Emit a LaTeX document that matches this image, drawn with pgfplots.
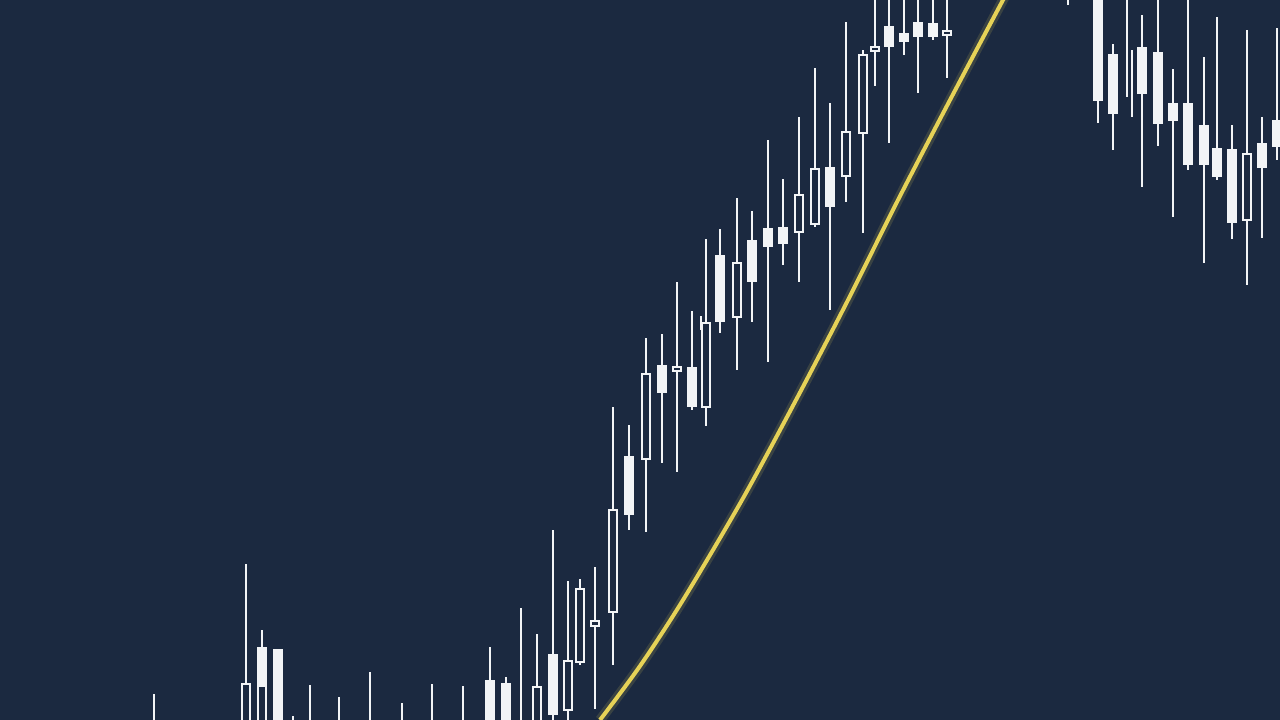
\documentclass[border=0pt]{standalone}
\usepackage{pgfplots}
\usepackage{pgfplotstable}
\pgfplotsset{compat=1.18}
\definecolor{bgc}{HTML}{1B2940}
\definecolor{candle}{HTML}{F2F4F6}
\definecolor{gold}{HTML}{E6D257}

\pgfplotstableread{
x h l
154 694 760
246 564 700
262 630 700
293 716 760
310 685 760
339 697 760
370 672 760
402 703 760
432 684 760
463 686 760
490 647 700
506 677 700
521 608 760
537 634 700
553 530 760
568 581 720
580 579 665
595 567 709
613 407 665
629 425 530
646 338 532
662 334 463
677 282 472
692 311 410
706 239 426
701 316 330
720 229 333
737 198 370
752 211 322
768 140 362
783 179 265
799 117 282
815 68 227
830 103 310
846 22 202
863 50 233
875 -10 86
889 -10 143
904 -10 55
918 -10 93
933 -10 40
947 -10 78
1068 -10 5
1098 -10 123
1113 44 150
1127 -10 97
1132 50 117
1142 15 187
1158 -10 146
1173 69 217
1188 -10 170
1204 57 263
1217 17 180
1232 125 239
1247 30 285
1262 117 238
1277 28 160
}\wicks

\pgfplotstableread{
x t b
154 725 760
262 647 686
278 649 760
490 680 760
506 683 760
553 654 715
629 456 515
662 365 393
692 367 407
720 255 322
752 240 282
768 228 247
783 227 244
830 167 207
889 26 47
904 33 42
918 22 37
933 23 37
1098 -10 101
1113 54 114
1142 47 94
1158 52 124
1173 103 121
1188 103 165
1204 125 165
1217 148 177
1232 149 223
1262 143 168
1277 120 147
}\filled

\pgfplotstableread{
x t b
246 683 760
262 685 760
537 686 760
568 660 711
580 588 663
595 620 627
613 509 613
646 373 460
677 366 372
706 322 408
737 262 318
799 194 233
815 168 225
846 131 177
863 54 134
875 46 52
947 30 36
1247 153 221
}\hollow

\pgfplotstableread{
x y
600 720
640 666
683 600
742 500
796 400
848 300
898 200
950 100
1003 0
1010 -12
}\curve

\begin{document}
\begin{tikzpicture}
\fill[bgc] (0,0) rectangle (1280pt,720pt);
\begin{axis}[
  at={(0,0)}, anchor=south west,
  width=1280pt, height=720pt, scale only axis,
  xmin=0, xmax=1280, ymin=0, ymax=720, y dir=reverse,
  axis lines=none, ticks=none,
  clip=true,
]
% wicks
\addplot[draw=none, mark=none, error bars/.cd, y dir=both, y explicit, error mark=none,
  error bar style={draw=candle, line width=1.9pt}]
  table[x=x, y expr={(\thisrow{h}+\thisrow{l})/2}, y error expr={(\thisrow{l}-\thisrow{h})/2}] {\wicks};
% filled bodies
\addplot[draw=none, mark=none, error bars/.cd, y dir=both, y explicit, error mark=none,
  error bar style={draw=candle, line width=10.5pt}]
  table[x=x, y expr={(\thisrow{t}+\thisrow{b})/2}, y error expr={(\thisrow{b}-\thisrow{t})/2}] {\filled};
% hollow bodies: outline
\addplot[draw=none, mark=none, error bars/.cd, y dir=both, y explicit, error mark=none,
  error bar style={draw=candle, line width=10.5pt}]
  table[x=x, y expr={(\thisrow{t}+\thisrow{b})/2}, y error expr={(\thisrow{b}-\thisrow{t})/2}] {\hollow};
% hollow bodies: interior
\addplot[draw=none, mark=none, error bars/.cd, y dir=both, y explicit, error mark=none,
  error bar style={draw=bgc, line width=6.7pt}]
  table[x=x, y expr={(\thisrow{t}+\thisrow{b})/2}, y error expr={(\thisrow{b}-\thisrow{t})/2-1.9}] {\hollow};
% yellow curve with glow
\addplot[gold, line width=10pt, opacity=0.15, smooth, mark=none] table {\curve};
\addplot[gold, line width=4pt, smooth, mark=none] table {\curve};
\end{axis}
\pgfresetboundingbox
\path (0,0) rectangle (1280pt,720pt);
\end{tikzpicture}
\end{document}
